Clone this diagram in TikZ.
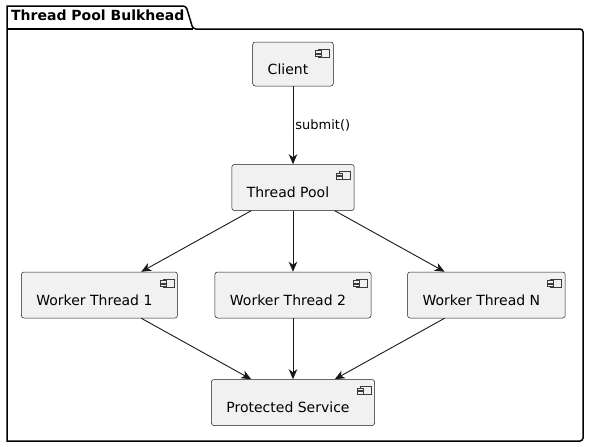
\documentclass[tikz,border=0pt]{standalone}
\usepackage{fontspec}
\setmainfont{DejaVu Sans}
\usetikzlibrary{arrows.meta, positioning}
\definecolor{cline}{RGB}{24, 24, 24}
\definecolor{cfill}{RGB}{241, 241, 241}
\tikzset{
  comp/.style={draw=cline, fill=cfill, line width=0.5pt, rounded corners=2.5pt,
               inner xsep=15pt, inner ysep=0pt, text height=33pt, text depth=13pt,
               font=\fontsize{14}{16}\selectfont, execute at end node={\hspace*{10pt}}},
  arr/.style={-{Stealth[length=10pt, width=8.5pt, inset=3pt]}, line width=0.9pt, draw=cline},
  lab/.style={font=\fontsize{13}{15}\selectfont, inner sep=2pt},
  icon/.style={draw=cline!85, fill=cfill, line width=0.4pt},
  pkg/.style={draw=black, line width=1.5pt},
}

\begin{document}
\begin{tikzpicture}[x=1pt, y=-1pt]
\useasboundingbox (0,0) rectangle (589,447);

% ---------- package frame ----------
\draw[pkg] (7,29) -- (7,6) [rounded corners=3pt] -- (186,6) -- (193,29) -- (583,29) -- (583,441) [sharp corners] -- (7,441) -- cycle;
\draw[pkg] (7,29) -- (193,29);
\node[anchor=base west, inner sep=0pt, font=\fontsize{14}{16}\selectfont\bfseries] (title) at (11,20) {Thread Pool Bulkhead};

% ---------- components ----------
\node[comp, text height=32pt, text depth=12pt] (client) at (293,64) {Client};
\node[comp, below=78pt of client] (pool) {Thread Pool};
\node[comp, below=61pt of pool] (w2) {Worker Thread 2};
\node[comp, left=37pt of w2] (w1) {Worker Thread 1};
\node[comp, right=36pt of w2] (wn) {Worker Thread N};
\node[comp, below=61pt of w2] (svc) {Protected Service};

% component icons
\foreach \n in {client, pool, w1, w2, wn, svc} {
  \draw[icon] ([xshift=-15pt, yshift=-7pt]\n.north east) rectangle ++(11pt,-8pt);
  \draw[icon] ([xshift=-18pt, yshift=-8.5pt]\n.north east) rectangle ++(6pt,-2.5pt);
  \draw[icon] ([xshift=-18pt, yshift=-12pt]\n.north east) rectangle ++(6pt,-2.5pt);
}

% ---------- connectors ----------
\draw[arr] (client) -- node[lab, right] (submit) {submit()} (pool);
\draw[arr] (pool) -- (w1);
\draw[arr] (pool) -- (w2);
\draw[arr] (pool) -- (wn);
\draw[arr] (w1) -- (svc);
\draw[arr] (w2) -- (svc);
\draw[arr] (wn) -- (svc);

\end{tikzpicture}
\end{document}
